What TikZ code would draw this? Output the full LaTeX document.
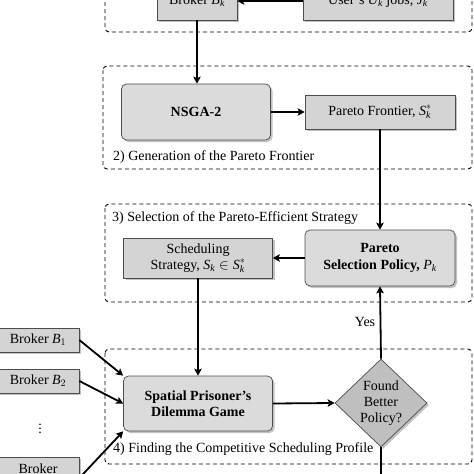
\documentclass[tikz,border=0pt]{standalone}
\usepackage{fontspec}
\setmainfont{Liberation Serif}
\usetikzlibrary{arrows.meta,shapes.geometric,shadows}
\newcommand{\vi}[1]{\mathit{#1}}
\begin{document}
\begin{tikzpicture}[x=1pt,y=-1pt,
  txt/.style={font=\fontsize{14}{16}\selectfont},
  sqbox/.style={txt,draw=black!70,line width=0.7pt,fill=black!17,inner sep=0pt,align=center,
    drop shadow={shadow xshift=2pt,shadow yshift=-2pt,fill=black!40,opacity=0.6}},
  rbox/.style={sqbox,rounded corners=5pt,fill=black!14},
  decision/.style={txt,diamond,draw=black!70,line width=0.7pt,fill=black!25,inner sep=0pt,align=center,
    minimum width=92pt,minimum height=88pt,
    drop shadow={shadow xshift=2pt,shadow yshift=-2pt,fill=black!40,opacity=0.6}},
  frame/.style={draw=black,line width=0.9pt,rounded corners=4pt,dash pattern=on 4pt off 3pt},
  lbl/.style={txt,inner sep=0pt,anchor=west},
  arr/.style={line width=1.8pt,-{Stealth[length=7pt,width=7.5pt,inset=1.5pt]}},
  lin/.style={line width=1.8pt}]
\useasboundingbox (0,0) rectangle (474,474);

% dashed stage frames
\draw[frame] (105,-30) rectangle (472,32);
\draw[frame] (103,66) rectangle (472,169);
\draw[frame] (105,204) rectangle (472,302);
\draw[frame] (105,349) rectangle (472,464);

% stage 1
\node[sqbox,minimum width=80pt,minimum height=38pt] (bk) at (197,1) {Broker $\vi{B}_{\vi{k}}$};
\node[sqbox,minimum width=150pt,minimum height=38pt] (user) at (378,1) {User's $\vi{U}_{\vi{k}}$ jobs, $\vi{J}_{\vi{k}}$};

% stage 2
\node[rbox,minimum width=149pt,minimum height=56pt] (nsga) at (196,112) {\textbf{NSGA-2}};
\node[sqbox,minimum width=150pt,minimum height=34pt] (pf) at (380,112) {Pareto Frontier, $\vi{S}_{\vi{k}}^{*}$};
\node[lbl] (l2) at (113,157) {2) Generation of the Pareto Frontier};

% stage 3
\node[lbl] (l3) at (112,218) {3) Selection of the Pareto-Efficient Strategy};
\node[rbox,minimum width=150pt,minimum height=56pt] (psp) at (380,258) {\textbf{Pareto}\\[1pt]\textbf{Selection Policy,} $\vi{P}_{\vi{k}}$};
\node[sqbox,minimum width=149pt,minimum height=40pt] (ss) at (198,258) {Scheduling\\Strategy, $\vi{S}_{\vi{k}} \in \vi{S}_{\vi{k}}^{*}$};

% stage 4
\node[rbox,minimum width=149pt,minimum height=55pt] (spd) at (198,403.5) {\textbf{Spatial Prisoner's}\\\textbf{Dilemma Game}};
\node[decision] (dia) at (381,403) {Found\\Better\\Policy?};
\node[lbl] (l4) at (113,449) {4) Finding the Competitive Scheduling Profile};
\node[txt,inner sep=0pt] (yes) at (365,322) {Yes};

% brokers
\node[sqbox,minimum width=82pt,minimum height=24pt] (b1) at (38,340) {Broker $\vi{B}_{1}$};
\node[sqbox,minimum width=82pt,minimum height=24pt] (b2) at (38,381) {Broker $\vi{B}_{2}$};
\node[txt,inner sep=0pt] (dots) at (40,426) {$\vdots$};
\node[sqbox,minimum width=82pt,minimum height=42pt] (bn) at (38,478) {Broker\\$\vi{B}_{\vi{N}}$};
\coordinate (out) at (381,480);

% connectors
\draw[arr] (user.west) -- (bk.east);
\draw[arr] (bk.south) -- (bk.south |- nsga.north);
\draw[arr] (nsga.east) -- (pf.west);
\draw[arr] (pf.south) -- (psp.north);
\draw[arr] (psp.west) -- (ss.east);
\draw[arr] (ss.south) -- (ss.south |- spd.north);
\draw[arr] (b1.east) -- (spd.north west);
\draw[arr] (b2.east) -- (spd.west);
\draw[arr] (bn.east) -- (spd.south west);
\draw[arr] (spd.east) -- (dia.west);
\draw[arr] (dia.north) -- (psp.south);
\draw[lin] (dia.south) -- (out);
\end{tikzpicture}
\end{document}
